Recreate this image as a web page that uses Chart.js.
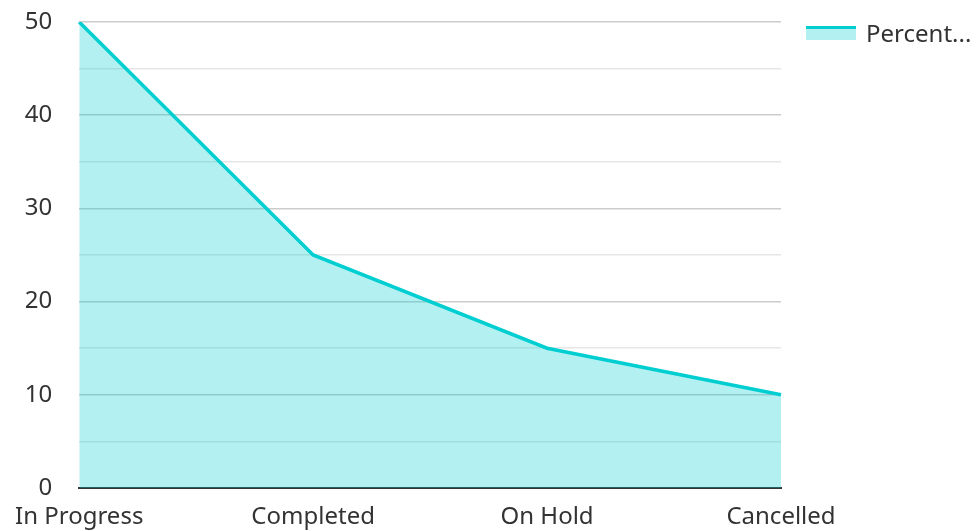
<!DOCTYPE html>
<html>
<head>
<meta charset="utf-8">
<script src="https://cdn.jsdelivr.net/npm/chart.js@4"></script>
<style>
  html, body { margin: 0; padding: 0; background: #fff; }
  #wrap { position: relative; width: 976px; height: 531px; }
  #legend {
    position: absolute; left: 806px; top: 16px;
    font-family: 'Noto Sans', sans-serif; font-size: 24px; color: #333;
    display: flex; align-items: center;
  }
  #legend .box {
    width: 50px; height: 14px; margin-right: 10px;
    background: rgba(0, 206, 209, 0.3); border-top: 3px solid #00ced1; box-sizing: border-box;
  }
</style>
</head>
<body>
<div id="wrap">
  <canvas id="chart" width="976" height="531"></canvas>
  <div id="legend"><span class="box"></span><span id="legend-label"></span></div>
</div>
<script>
const categories = ['In Progress', 'Completed', 'On Hold', 'Cancelled'];
const percentValues = [50, 25, 15, 10];
const seriesLabel = 'Percent...';

const LINE = '#00ced1';
const FILL = 'rgba(0, 206, 209, 0.3)';

document.getElementById('legend-label').textContent = seriesLabel;

Chart.defaults.font.family = "'Noto Sans', sans-serif";
Chart.defaults.font.size = 24;
Chart.defaults.font.lineHeight = 1;
Chart.defaults.color = '#333';

new Chart(document.getElementById('chart'), {
  type: 'line',
  data: {
    labels: categories,
    datasets: [{
      label: seriesLabel,
      data: percentValues,
      borderColor: LINE,
      backgroundColor: FILL,
      borderWidth: 3.5,
      fill: 'origin',
      pointRadius: 0,
      tension: 0
    }]
  },
  options: {
    responsive: false,
    animation: false,
    layout: { padding: { top: 22, right: 195, left: 0, bottom: -13 } },
    plugins: { legend: { display: false }, tooltip: { enabled: false } },
    scales: {
      x: {
        offset: false,
        // invisible tick marks only, to push the labels down without widening the side padding
        grid: { display: true, drawOnChartArea: false, drawTicks: true, tickLength: 2, tickColor: 'rgba(0,0,0,0)' },
        border: { display: true, color: '#333', width: 2 },
        ticks: { padding: 15, maxRotation: 0, autoSkip: false }
      },
      y: {
        min: 0, max: 50,
        grid: {
          drawTicks: true,
          tickLength: 24,
          tickColor: 'rgba(0,0,0,0)',
          color: ctx => (ctx.tick && ctx.tick.value % 10 === 0) ? '#cccccc' : '#e6e6e6',
          lineWidth: 1.5
        },
        border: { display: false },
        ticks: {
          stepSize: 5,
          autoSkip: false,
          padding: 3,
          callback: v => (v % 10 === 0 ? v : '')
        }
      }
    }
  }
});
</script>
</body>
</html>
